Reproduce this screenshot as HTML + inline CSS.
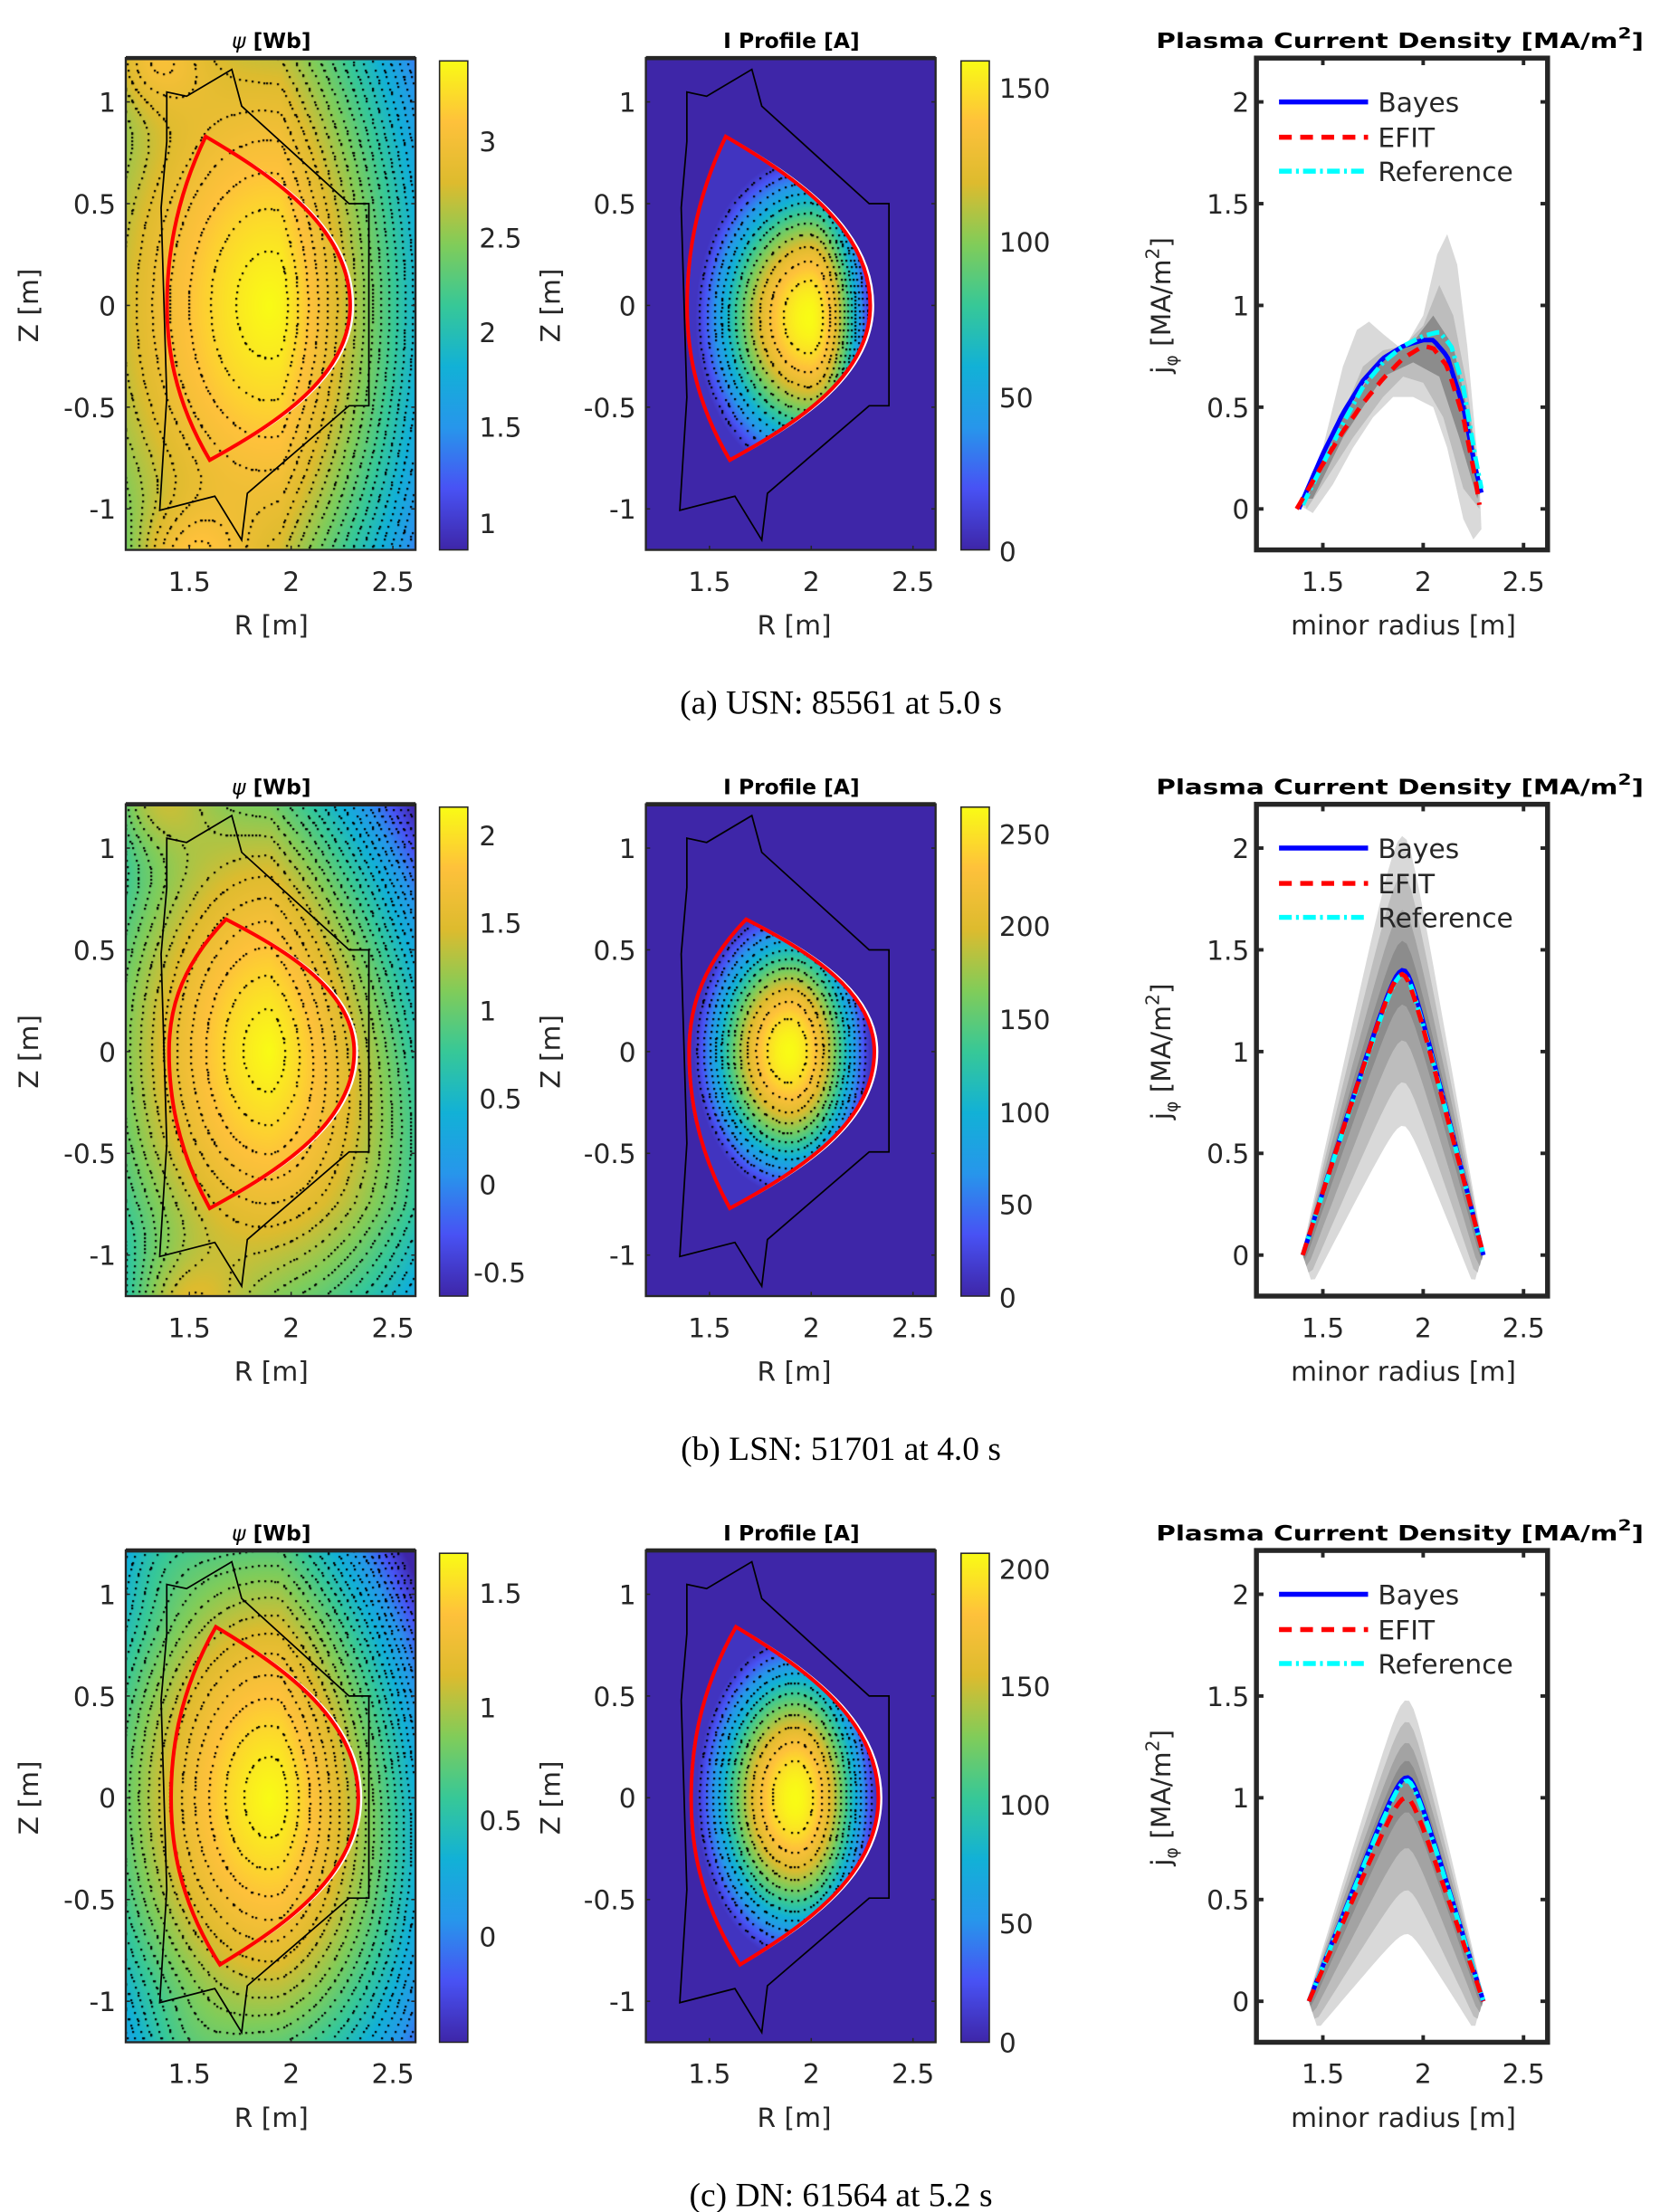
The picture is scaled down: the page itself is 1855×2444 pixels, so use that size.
<!DOCTYPE html>
<html><head><meta charset="utf-8">
<style>
html,body{margin:0;padding:0;background:#fff;}
#root{position:relative;width:1855px;height:2444px;overflow:hidden;background:#fff;}
canvas{position:absolute;}
svg{position:absolute;left:0;top:0;}
.t{font-family:"DejaVu Sans","Liberation Sans",sans-serif;fill:#262626;font-size:19px;}
.b{font-family:"DejaVu Sans","Liberation Sans",sans-serif;font-weight:bold;fill:#000;font-size:15px;}
.cap{font-family:"Liberation Serif",serif;fill:#000;font-size:24px;}
</style></head>
<body><div id="root">
<svg id="sv" width="1855" height="2444" viewBox="0 0 1188 1565">
<defs>
<linearGradient id="par" x1="0" y1="1" x2="0" y2="0">
<stop offset="0" stop-color="rgb(62,38,168)"/><stop offset="0.125" stop-color="rgb(72,82,244)"/><stop offset="0.25" stop-color="rgb(39,150,235)"/><stop offset="0.375" stop-color="rgb(18,177,214)"/><stop offset="0.5" stop-color="rgb(55,200,151)"/><stop offset="0.625" stop-color="rgb(129,204,89)"/><stop offset="0.75" stop-color="rgb(221,187,46)"/><stop offset="0.875" stop-color="rgb(254,193,59)"/><stop offset="1" stop-color="rgb(249,251,21)"/>
</linearGradient>
</defs>
<g id="gfx"></g>
<g id="txt">
<!-- Row a -->
<g transform="translate(0,0)">
<text class="b" x="192" y="34" text-anchor="middle" font-size="16"><tspan font-style="italic" font-weight="normal">ψ</tspan> [Wb]</text>
<text class="b" x="560" y="34" text-anchor="middle" font-size="16">I Profile [A]</text>
<text class="b" x="818" y="34" textLength="345" lengthAdjust="spacingAndGlyphs" font-size="16">Plasma Current Density [MA/m<tspan dy="-7" font-size="11">2</tspan><tspan dy="7">]</tspan></text>
<text class="t" x="82" y="79" text-anchor="end">1</text><text class="t" x="82" y="151" text-anchor="end">0.5</text><text class="t" x="82" y="223" text-anchor="end">0</text><text class="t" x="82" y="295" text-anchor="end">-0.5</text><text class="t" x="82" y="367" text-anchor="end">-1</text>
<text class="t" x="134" y="418" text-anchor="middle">1.5</text><text class="t" x="206" y="418" text-anchor="middle">2</text><text class="t" x="278" y="418" text-anchor="middle">2.5</text>
<text class="t" x="192" y="449" text-anchor="middle" font-size="21">R [m]</text>
<text class="t" transform="translate(27,216) rotate(-90)" text-anchor="middle" font-size="21">Z [m]</text>
<text class="t" x="450" y="79" text-anchor="end">1</text><text class="t" x="450" y="151" text-anchor="end">0.5</text><text class="t" x="450" y="223" text-anchor="end">0</text><text class="t" x="450" y="295" text-anchor="end">-0.5</text><text class="t" x="450" y="367" text-anchor="end">-1</text>
<text class="t" x="502" y="418" text-anchor="middle">1.5</text><text class="t" x="574" y="418" text-anchor="middle">2</text><text class="t" x="646" y="418" text-anchor="middle">2.5</text>
<text class="t" x="562" y="449" text-anchor="middle" font-size="21">R [m]</text>
<text class="t" transform="translate(396,216) rotate(-90)" text-anchor="middle" font-size="21">Z [m]</text>
<text class="t" x="884" y="79" text-anchor="end">2</text><text class="t" x="884" y="151" text-anchor="end">1.5</text><text class="t" x="884" y="223" text-anchor="end">1</text><text class="t" x="884" y="295" text-anchor="end">0.5</text><text class="t" x="884" y="367" text-anchor="end">0</text>
<text class="t" x="936" y="418" text-anchor="middle">1.5</text><text class="t" x="1007" y="418" text-anchor="middle">2</text><text class="t" x="1078" y="418" text-anchor="middle">2.5</text>
<text class="t" x="993" y="449" text-anchor="middle" font-size="21">minor radius [m]</text>
<text class="t" transform="translate(828,216) rotate(-90)" text-anchor="middle" font-size="21">j<tspan font-size="12" dy="5">φ</tspan><tspan dy="-5"> [MA/m</tspan><tspan font-size="13" dy="-8">2</tspan><tspan dy="8">]</tspan></text>
<text class="t" x="975" y="79" font-size="17">Bayes</text><text class="t" x="975" y="104" font-size="17">EFIT</text><text class="t" x="975" y="128" font-size="17">Reference</text>
<text class="t" x="339" y="107" font-size="17">3</text><text class="t" x="339" y="175" font-size="17">2.5</text><text class="t" x="339" y="242" font-size="17">2</text><text class="t" x="339" y="309" font-size="17">1.5</text><text class="t" x="339" y="377" font-size="17">1</text>
<text class="t" x="707" y="69" font-size="17">150</text><text class="t" x="707" y="178" font-size="17">100</text><text class="t" x="707" y="288" font-size="17">50</text><text class="t" x="707" y="397" font-size="17">0</text>
<text class="cap" x="595" y="505" text-anchor="middle">(a) USN: 85561 at 5.0 s</text>
</g>
<!-- Row b -->
<g transform="translate(0,528)">
<text class="b" x="192" y="34" text-anchor="middle" font-size="16"><tspan font-style="italic" font-weight="normal">ψ</tspan> [Wb]</text>
<text class="b" x="560" y="34" text-anchor="middle" font-size="16">I Profile [A]</text>
<text class="b" x="818" y="34" textLength="345" lengthAdjust="spacingAndGlyphs" font-size="16">Plasma Current Density [MA/m<tspan dy="-7" font-size="11">2</tspan><tspan dy="7">]</tspan></text>
<text class="t" x="82" y="79" text-anchor="end">1</text><text class="t" x="82" y="151" text-anchor="end">0.5</text><text class="t" x="82" y="223" text-anchor="end">0</text><text class="t" x="82" y="295" text-anchor="end">-0.5</text><text class="t" x="82" y="367" text-anchor="end">-1</text>
<text class="t" x="134" y="418" text-anchor="middle">1.5</text><text class="t" x="206" y="418" text-anchor="middle">2</text><text class="t" x="278" y="418" text-anchor="middle">2.5</text>
<text class="t" x="192" y="449" text-anchor="middle" font-size="21">R [m]</text>
<text class="t" transform="translate(27,216) rotate(-90)" text-anchor="middle" font-size="21">Z [m]</text>
<text class="t" x="450" y="79" text-anchor="end">1</text><text class="t" x="450" y="151" text-anchor="end">0.5</text><text class="t" x="450" y="223" text-anchor="end">0</text><text class="t" x="450" y="295" text-anchor="end">-0.5</text><text class="t" x="450" y="367" text-anchor="end">-1</text>
<text class="t" x="502" y="418" text-anchor="middle">1.5</text><text class="t" x="574" y="418" text-anchor="middle">2</text><text class="t" x="646" y="418" text-anchor="middle">2.5</text>
<text class="t" x="562" y="449" text-anchor="middle" font-size="21">R [m]</text>
<text class="t" transform="translate(396,216) rotate(-90)" text-anchor="middle" font-size="21">Z [m]</text>
<text class="t" x="884" y="79" text-anchor="end">2</text><text class="t" x="884" y="151" text-anchor="end">1.5</text><text class="t" x="884" y="223" text-anchor="end">1</text><text class="t" x="884" y="295" text-anchor="end">0.5</text><text class="t" x="884" y="367" text-anchor="end">0</text>
<text class="t" x="936" y="418" text-anchor="middle">1.5</text><text class="t" x="1007" y="418" text-anchor="middle">2</text><text class="t" x="1078" y="418" text-anchor="middle">2.5</text>
<text class="t" x="993" y="449" text-anchor="middle" font-size="21">minor radius [m]</text>
<text class="t" transform="translate(828,216) rotate(-90)" text-anchor="middle" font-size="21">j<tspan font-size="12" dy="5">φ</tspan><tspan dy="-5"> [MA/m</tspan><tspan font-size="13" dy="-8">2</tspan><tspan dy="8">]</tspan></text>
<text class="t" x="975" y="79" font-size="17">Bayes</text><text class="t" x="975" y="104" font-size="17">EFIT</text><text class="t" x="975" y="128" font-size="17">Reference</text>
<text class="t" x="339" y="70" font-size="17">2</text><text class="t" x="339" y="132" font-size="17">1.5</text><text class="t" x="339" y="194" font-size="17">1</text><text class="t" x="339" y="256" font-size="17">0.5</text><text class="t" x="339" y="317" font-size="17">0</text><text class="t" x="335" y="379" font-size="17">-0.5</text>
<text class="t" x="707" y="69" font-size="17">250</text><text class="t" x="707" y="134" font-size="17">200</text><text class="t" x="707" y="200" font-size="17">150</text><text class="t" x="707" y="266" font-size="17">100</text><text class="t" x="707" y="331" font-size="17">50</text><text class="t" x="707" y="397" font-size="17">0</text>
<text class="cap" x="595" y="505" text-anchor="middle">(b) LSN: 51701 at 4.0 s</text>
</g>
<!-- Row c -->
<g transform="translate(0,1056)">
<text class="b" x="192" y="34" text-anchor="middle" font-size="16"><tspan font-style="italic" font-weight="normal">ψ</tspan> [Wb]</text>
<text class="b" x="560" y="34" text-anchor="middle" font-size="16">I Profile [A]</text>
<text class="b" x="818" y="34" textLength="345" lengthAdjust="spacingAndGlyphs" font-size="16">Plasma Current Density [MA/m<tspan dy="-7" font-size="11">2</tspan><tspan dy="7">]</tspan></text>
<text class="t" x="82" y="79" text-anchor="end">1</text><text class="t" x="82" y="151" text-anchor="end">0.5</text><text class="t" x="82" y="223" text-anchor="end">0</text><text class="t" x="82" y="295" text-anchor="end">-0.5</text><text class="t" x="82" y="367" text-anchor="end">-1</text>
<text class="t" x="134" y="418" text-anchor="middle">1.5</text><text class="t" x="206" y="418" text-anchor="middle">2</text><text class="t" x="278" y="418" text-anchor="middle">2.5</text>
<text class="t" x="192" y="449" text-anchor="middle" font-size="21">R [m]</text>
<text class="t" transform="translate(27,216) rotate(-90)" text-anchor="middle" font-size="21">Z [m]</text>
<text class="t" x="450" y="79" text-anchor="end">1</text><text class="t" x="450" y="151" text-anchor="end">0.5</text><text class="t" x="450" y="223" text-anchor="end">0</text><text class="t" x="450" y="295" text-anchor="end">-0.5</text><text class="t" x="450" y="367" text-anchor="end">-1</text>
<text class="t" x="502" y="418" text-anchor="middle">1.5</text><text class="t" x="574" y="418" text-anchor="middle">2</text><text class="t" x="646" y="418" text-anchor="middle">2.5</text>
<text class="t" x="562" y="449" text-anchor="middle" font-size="21">R [m]</text>
<text class="t" transform="translate(396,216) rotate(-90)" text-anchor="middle" font-size="21">Z [m]</text>
<text class="t" x="884" y="79" text-anchor="end">2</text><text class="t" x="884" y="151" text-anchor="end">1.5</text><text class="t" x="884" y="223" text-anchor="end">1</text><text class="t" x="884" y="295" text-anchor="end">0.5</text><text class="t" x="884" y="367" text-anchor="end">0</text>
<text class="t" x="936" y="418" text-anchor="middle">1.5</text><text class="t" x="1007" y="418" text-anchor="middle">2</text><text class="t" x="1078" y="418" text-anchor="middle">2.5</text>
<text class="t" x="993" y="449" text-anchor="middle" font-size="21">minor radius [m]</text>
<text class="t" transform="translate(828,216) rotate(-90)" text-anchor="middle" font-size="21">j<tspan font-size="12" dy="5">φ</tspan><tspan dy="-5"> [MA/m</tspan><tspan font-size="13" dy="-8">2</tspan><tspan dy="8">]</tspan></text>
<text class="t" x="975" y="79" font-size="17">Bayes</text><text class="t" x="975" y="104" font-size="17">EFIT</text><text class="t" x="975" y="128" font-size="17">Reference</text>
<text class="t" x="339" y="78" font-size="17">1.5</text><text class="t" x="339" y="159" font-size="17">1</text><text class="t" x="339" y="239" font-size="17">0.5</text><text class="t" x="339" y="321" font-size="17">0</text>
<text class="t" x="707" y="61" font-size="17">200</text><text class="t" x="707" y="144" font-size="17">150</text><text class="t" x="707" y="228" font-size="17">100</text><text class="t" x="707" y="312" font-size="17">50</text><text class="t" x="707" y="396" font-size="17">0</text>
<text class="cap" x="595" y="505" text-anchor="middle">(c) DN: 61564 at 5.2 s</text>
</g>
</g>
</svg>
</div>
<script>
(function(){
var S=1855/1188;
var NS="http://www.w3.org/2000/svg";
var root=document.getElementById('root');
var gfx=document.getElementById('gfx');
function el(tag,attrs,parent){var e=document.createElementNS(NS,tag);for(var k in attrs)e.setAttribute(k,attrs[k]);(parent||gfx).appendChild(e);return e;}
var par=[[62,38,168],[72,82,244],[39,150,235],[18,177,214],[55,200,151],[129,204,89],[221,187,46],[254,193,59],[249,251,21]];
function cmap(v){v=Math.max(0,Math.min(1,v));var t=v*8;var i=Math.min(7,Math.floor(t));var f=t-i;var a=par[i],b=par[i+1];return [a[0]+(b[0]-a[0])*f,a[1]+(b[1]-a[1])*f,a[2]+(b[2]-a[2])*f];}
function G(R,Z,r0,z0,s){return Math.exp(-(Math.pow(R-r0,2)+Math.pow(Z-z0,2))/s);}
var rows=[
 {off:0,T:[1.58,0.83],B:[1.60,-0.76],Ro:2.29,Ri:1.39,
  psi:function(R,Z){var r2=Math.pow((R-1.89)/0.6,2)+Z*Z;var r=Math.sqrt(r2);var v=1-0.13*r-0.085*r2-0.5*Math.max(0,R-1.95);
   v+=0.25*G(R,Z,1.3,1.25,0.08)+0.25*G(R,Z,1.5,-1.3,0.08);return v;},
  Ic:[1.99,-0.06],wl:0.6,wr:0.32,wz:0.85},
 {off:528,T:[1.68,0.65],B:[1.60,-0.77],Ro:2.31,Ri:1.40,
  psi:function(R,Z){var r2=Math.pow((R-1.89)/0.6,2)+Z*Z;var r=Math.sqrt(r2);var v=1-0.17*r-0.13*r2-0.2*Math.max(0,R-1.9)*Math.max(0.1,1+1.2*Z);
   v+=0.3*G(R,Z,1.3,1.3,0.09)+0.3*G(R,Z,1.45,-1.35,0.1);return v;},
  Ic:[1.89,0.0],wl:0.5,wr:0.42,wz:0.75},
 {off:1056,T:[1.63,0.84],B:[1.65,-0.82],Ro:2.33,Ri:1.41,
  psi:function(R,Z){var r2=Math.pow((R-1.89)/0.6,2)+Z*Z;var r=Math.sqrt(r2);var v=1-0.17*r-0.16*r2-0.3*Math.max(0,R-1.95)*(1+0.5*Z);
   v+=0.1*G(R,Z,1.3,1.25,0.08)+0.1*G(R,Z,1.45,-1.3,0.08);return v;},
  Ic:[1.92,0.0],wl:0.52,wr:0.42,wz:0.85}
];
function bpath(r,fx,fy,dR){dR=dR||0;
 var T=r.T,B=r.B,Ro=r.Ro+dR,Ri=r.Ri;
 function p(R,Z){return fx(R).toFixed(2)+","+fy(Z).toFixed(2);}
 return "M"+p(T[0],T[1])+
 " C"+p(T[0]+0.5*(Ro-T[0]),T[1]*0.75)+" "+p(Ro,T[1]*0.45)+" "+p(Ro,0)+
 " C"+p(Ro,B[1]*0.45)+" "+p(B[0]+0.5*(Ro-B[0]),B[1]*0.75)+" "+p(B[0],B[1])+
 " C"+p(Ri+0.03,B[1]*0.6)+" "+p(Ri,B[1]*0.25)+" "+p(Ri,0)+
 " C"+p(Ri,T[1]*0.25)+" "+p(Ri+0.03,T[1]*0.6)+" "+p(T[0],T[1])+" Z";}
var wall=[[118,65],[132,68],[164,49],[171,75],[247,144],[261,144],[261,287],[247,287],[175,349],[171,382],[152,351],[113,361],[118,281],[114,147],[118,100]];
var W=Math.round(205*S),H=Math.round(348*S);
function mkCanvas(x,y){var c=document.createElement('canvas');c.width=W;c.height=H;c.style.left=(x*S)+'px';c.style.top=(y*S)+'px';c.style.width=W+'px';c.style.height=H+'px';root.insertBefore(c,root.firstChild);return c;}
function pxR(px){return 1.5+((px/S)-45)/144;}
function pxZ(py){return (216-(py/S+41))/144;}
rows.forEach(function(r){
 var o=r.off;
 [0,1].forEach(function(k){
  var x0=k?457:89;
  var c=mkCanvas(x0,41+o);var ctx=c.getContext('2d');
  var img=ctx.createImageData(W,H);var d=img.data;
  var vals=new Float32Array(W*H);
  var path=new Path2D(bpath(r,function(R){return (45+(R-1.5)*144)*S;},function(Z){return (216-Z*144-41)*S;}));
  for(var y=0;y<H;y++)for(var x=0;x<W;x++){
   var R=pxR(x),Z=pxZ(y),v;
   if(k==0){v=r.psi(R,Z);}
   else{
    if(ctx.isPointInPath(path,x,y)){var dr=R-r.Ic[0];var w=dr<0?r.wl:r.wr;var q=Math.pow(dr/w,2)+Math.pow((Z-r.Ic[1])/r.wz,2);v=Math.max(0.04,Math.pow(Math.max(0,1-q),1.5));}
    else v=-1;
   }
   vals[y*W+x]=v;
  }
  var dv=k==0?0.04:0.085;
  var dots=[];
  for(var y=0;y<H;y++)for(var x=0;x<W;x++){
   var v=vals[y*W+x];var i=(y*W+x)*4;var col=cmap(v<0?0:v);
   d[i]=col[0];d[i+1]=col[1];d[i+2]=col[2];d[i+3]=255;
   if(v>=0&&x<W-1&&y<H-1){
    var a=Math.floor(v/dv),b1=vals[y*W+x+1],b2=vals[(y+1)*W+x];
    if(b1>=0&&b2>=0&&(Math.floor(b1/dv)!=a||Math.floor(b2/dv)!=a)){
     if((x%7==0)||(y%7==0)) dots.push([x,y]);
    }
   }
  }
  ctx.putImageData(img,0,0);
  ctx.fillStyle='#000';
  var last={};
  dots.forEach(function(p){var key=(p[0]>>2)+'_'+(p[1]>>2);if(last[key])return;last[key]=1;ctx.fillRect(p[0]-1,p[1]-1,2.2,2.2);});
  var g=el('g',{});
  var fx=function(R){return x0+45+(R-1.5)*144;},fy=function(Z){return o+216-Z*144;};
  var wp=wall.map(function(p){return (p[0]+x0-89)+","+(p[1]+o);}).join(" ");
  el('polygon',{points:wp,fill:'none',stroke:'#000','stroke-width':1.1},g);
  el('path',{d:bpath(r,fx,fy,0.012),fill:'none',stroke:'#fff','stroke-width':2.2},g);
  el('path',{d:bpath(r,fx,fy),fill:'none',stroke:'#ff0000','stroke-width':2.6},g);
  el('rect',{x:x0,y:41+o,width:205,height:348,fill:'none',stroke:'#262626','stroke-width':1.5},g);
  el('line',{x1:x0,y1:41+o,x2:x0+205,y2:41+o,stroke:'#262626','stroke-width':3},g);
  [72,144,216,288,360].forEach(function(yy){el('line',{x1:x0,y1:yy+o,x2:x0+3,y2:yy+o,stroke:'#262626','stroke-width':1},g);el('line',{x1:x0+205,y1:yy+o,x2:x0+202,y2:yy+o,stroke:'#262626','stroke-width':1},g);});
  [45,117,189].forEach(function(xx){el('line',{x1:x0+xx,y1:389+o,x2:x0+xx,y2:386+o,stroke:'#262626','stroke-width':1},g);});
  var cx=k?680:311;
  el('rect',{x:cx,y:43+o,width:20,height:346,fill:'url(#par)',stroke:'#262626','stroke-width':1},g);
 });
 var g=el('g',{});
 var X=function(R){return 936+(R-1.5)*142;},Y=function(j){return o+360-j*144;};
 function poly(up,lo,fill){var pts=up.concat(lo).map(function(p){return X(p[0]).toFixed(1)+","+Y(p[1]).toFixed(1);}).join(" ");el('polygon',{points:pts,fill:fill,stroke:'none'},g);}
 function tent(R,Rl,Rp,Rr){var t=R<Rp?(Rp-R)/(Rp-Rl):(R-Rp)/(Rr-Rp);var e=0.012;return (Math.sqrt(1+e)-Math.sqrt(t*t+e))/(Math.sqrt(1+e)-Math.sqrt(e));}
 function line(fn,R0,R1,attrs){var s=[];for(var i=0;i<=60;i++){var R=R0+(R1-R0)*i/60;s.push(X(R).toFixed(1)+","+Y(fn(R)).toFixed(1));}attrs.points=s.join(" ");attrs.fill='none';el('polyline',attrs,g);}
 var shades=['#d9d9d9','#bdbdbd','#a3a3a3','#8c8c8c'];
 var LW=3.2;
 var dashE='9,6',dashR='9,3,2,3';
 if(o==0){
  poly([[1.38,0.02],[1.5,0.3],[1.6,0.7],[1.67,0.88],[1.73,0.92],[1.8,0.86],[1.9,0.78],[2.0,0.95],[2.07,1.25],[2.12,1.35],[2.17,1.2],[2.22,0.8],[2.28,0.15]],[[2.29,-0.1],[2.25,-0.15],[2.2,-0.05],[2.12,0.3],[2.05,0.5],[1.95,0.55],[1.85,0.55],[1.75,0.45],[1.65,0.3],[1.55,0.12],[1.45,-0.02]],shades[0]);
  poly([[1.4,0.05],[1.55,0.35],[1.7,0.7],[1.8,0.78],[1.9,0.8],[2.0,0.9],[2.08,1.1],[2.15,0.95],[2.22,0.6],[2.28,0.12]],[[2.28,0.0],[2.2,0.1],[2.1,0.45],[2.0,0.62],[1.9,0.65],[1.8,0.55],[1.65,0.35],[1.5,0.12],[1.42,0.0]],shades[1]);
  poly([[1.42,0.05],[1.6,0.45],[1.8,0.75],[1.95,0.82],[2.05,0.95],[2.15,0.8],[2.25,0.35],[2.28,0.1]],[[2.27,0.05],[2.18,0.35],[2.08,0.65],[1.95,0.72],[1.8,0.65],[1.6,0.35],[1.45,0.05]],shades[3]);
  function interp(pts){return function(R){for(var i=0;i<pts.length-1;i++){if(R<=pts[i+1][0]){var f=(R-pts[i][0])/(pts[i+1][0]-pts[i][0]);return pts[i][1]+(pts[i+1][1]-pts[i][1])*f;}}return pts[pts.length-1][1];};}
  var bay=interp([[1.38,0],[1.5,0.27],[1.6,0.47],[1.7,0.63],[1.8,0.74],[1.9,0.8],[2.0,0.83],[2.05,0.83],[2.12,0.75],[2.2,0.5],[2.26,0.2],[2.29,0.08]]);
  var efit=interp([[1.37,0],[1.5,0.22],[1.6,0.38],[1.7,0.52],[1.8,0.64],[1.9,0.74],[2.0,0.8],[2.05,0.79],[2.12,0.7],[2.2,0.45],[2.26,0.15],[2.28,0.02]]);
  var ref=interp([[1.4,0.02],[1.5,0.22],[1.6,0.42],[1.7,0.6],[1.8,0.72],[1.9,0.8],[2.0,0.85],[2.08,0.87],[2.14,0.8],[2.2,0.6],[2.26,0.25],[2.29,0.1]]);
  line(bay,1.38,2.29,{stroke:'#0000ff','stroke-width':LW});
  line(ref,1.4,2.29,{stroke:'#00ffff','stroke-width':LW,'stroke-dasharray':dashR});
  line(efit,1.37,2.28,{stroke:'#ff0000','stroke-width':LW,'stroke-dasharray':dashE});
 } else {
  var P,Pe,Rl,Rp,Rr,au,al;
  if(o==528){P=1.4;Pe=1.38;Rl=1.4;Rp=1.9;Rr=2.3;au=0.45;al=0.46;}
  else {P=1.1;Pe=1.0;Rl=1.43;Rp=1.92;Rr=2.3;au=0.32;al=0.59;}
  var m=function(R){return P*tent(R,Rl,Rp,Rr);};
  [1,0.72,0.45,0.22].forEach(function(s,idx){
   var up=[],lo=[];
   for(var i=0;i<=40;i++){var R=Rl+(Rr-Rl)*i/40;up.push([R,m(R)*(1+au*s)+0.03*s]);}
   for(var i=40;i>=0;i--){var R=Rl+0.04*s+(Rr-Rl-0.08*s)*i/40;lo.push([R,Math.max(-0.12*s,P*(1-al*s)*tent(R,Rl+0.06*s,Rp,Rr-0.06*s)-0.12*s)]);}
   lo.push([Rl,0]);
   poly(up,lo,shades[idx]);
  });
  line(m,Rl,Rr,{stroke:'#0000ff','stroke-width':LW});
  line(function(R){return 0.985*P*tent(R,Rl,Rp,Rr);},Rl,Rr,{stroke:'#00ffff','stroke-width':LW,'stroke-dasharray':dashR});
  line(function(R){return Pe*tent(R,Rl,Rp-0.005,Rr);},Rl,Rr,{stroke:'#ff0000','stroke-width':LW,'stroke-dasharray':dashE});
 }
 el('rect',{x:889,y:41+o,width:206,height:348,fill:'none',stroke:'#262626','stroke-width':3.5},g);
 [72,144,216,288,360].forEach(function(yy){el('line',{x1:889,y1:yy+o,x2:894,y2:yy+o,stroke:'#262626','stroke-width':2.5},g);el('line',{x1:1095,y1:yy+o,x2:1090,y2:yy+o,stroke:'#262626','stroke-width':2.5},g);});
 [936,1007,1078].forEach(function(xx){el('line',{x1:xx,y1:389+o,x2:xx,y2:384+o,stroke:'#262626','stroke-width':2.5},g);el('line',{x1:xx,y1:41+o,x2:xx,y2:46+o,stroke:'#262626','stroke-width':2.5},g);});
 el('line',{x1:905,y1:72+o,x2:968,y2:72+o,stroke:'#0000ff','stroke-width':3.5},g);
 el('line',{x1:905,y1:97+o,x2:968,y2:97+o,stroke:'#ff0000','stroke-width':3.5,'stroke-dasharray':'9,6'},g);
 el('line',{x1:905,y1:121+o,x2:968,y2:121+o,stroke:'#00ffff','stroke-width':3.5,'stroke-dasharray':'9,3,2,3'},g);
});
})();
</script>
</body></html>
